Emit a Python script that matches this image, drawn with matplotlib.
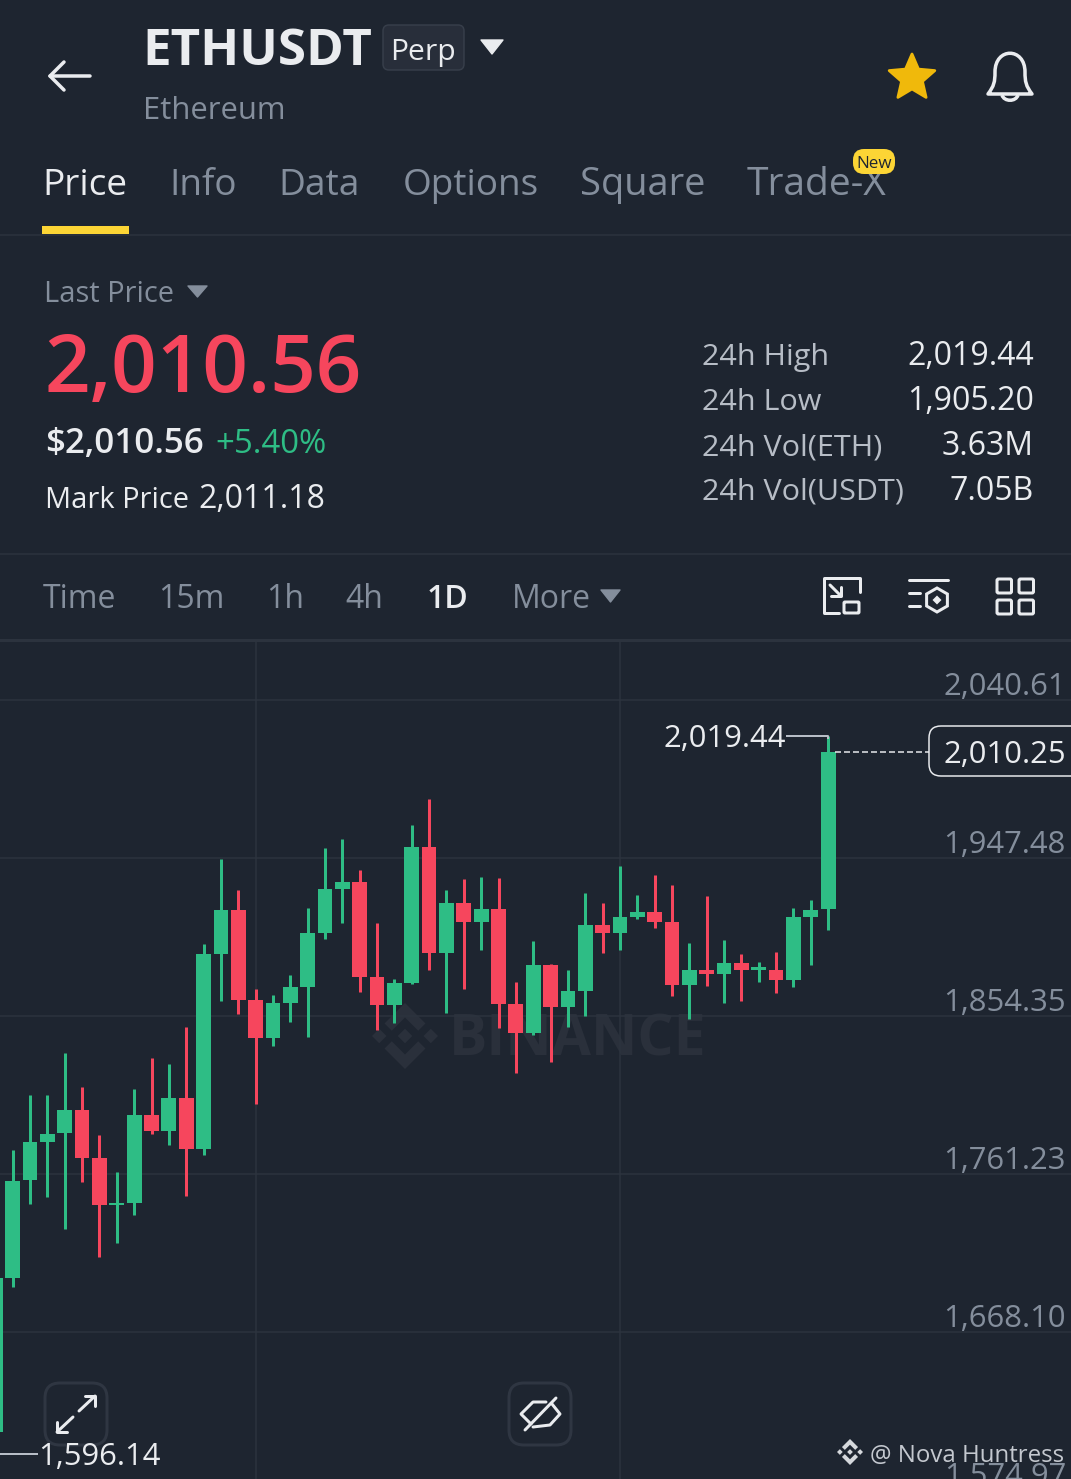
import numpy as np
import matplotlib
matplotlib.use('Agg')
import matplotlib.pyplot as plt
from matplotlib.patches import Polygon, FancyBboxPatch, PathPatch, Rectangle, RegularPolygon
from matplotlib.path import Path

# Daily candles (prices)
highs = [1704.6, 1775.4, 1807.8, 1807.6, 1832.7, 1812.7, 1784.0, 1762.4, 1811.1, 1829.4, 1826.0, 1847.7, 1896.8,
         1946.7, 1928.4, 1870.1, 1866.9, 1878.7, 1917.8, 1953.5, 1958.5, 1940.6, 1909.0, 1876.1, 1966.7, 1982.0,
         1928.8, 1934.9, 1936.4, 1935.9, 1874.2, 1898.4, 1885.0, 1881.5, 1927.0, 1920.8, 1942.9, 1925.7, 1937.4,
         1931.4, 1897.2, 1924.9, 1899.3, 1890.7, 1886.0, 1891.9, 1917.8, 1922.5, 2019.44]
lows = [1596.14, 1694.6, 1743.4, 1747.5, 1728.6, 1756.7, 1712.5, 1720.7, 1736.9, 1785.0, 1778.5, 1748.2, 1772.6,
        1863.4, 1855.5, 1802.6, 1836.5, 1851.0, 1842.0, 1899.6, 1909.3, 1868.3, 1846.3, 1850.4, 1873.0, 1881.3,
        1855.9, 1870.4, 1893.1, 1847.4, 1820.9, 1843.1, 1827.2, 1847.7, 1854.5, 1891.7, 1893.4, 1911.3, 1906.4,
        1866.3, 1852.4, 1872.2, 1862.2, 1863.2, 1874.6, 1868.1, 1871.6, 1884.2, 1905.2]
opens = [1609.1, 1700.1, 1757.7, 1780.1, 1785.2, 1798.8, 1770.6, 1742.8, 1744.3, 1795.8, 1786.7, 1805.8, 1776.1,
         1891.1, 1916.8, 1863.8, 1841.2, 1861.8, 1871.4, 1903.4, 1929.2, 1933.3, 1877.3, 1860.6, 1874.0, 1953.8,
         1891.7, 1920.9, 1909.7, 1917.2, 1861.6, 1844.3, 1884.2, 1859.8, 1869.1, 1907.8, 1903.3, 1912.9, 1915.8,
         1909.6, 1872.4, 1881.6, 1878.9, 1885.4, 1881.5, 1881.6, 1875.4, 1912.9, 1917.2]
closes = [1699.9, 1757.3, 1779.9, 1785.0, 1798.8, 1770.8, 1742.8, 1744.3, 1795.8, 1786.7, 1805.8, 1776.1, 1891.1,
          1916.8, 1863.8, 1841.2, 1861.8, 1871.4, 1903.4, 1929.2, 1933.3, 1877.5, 1860.6, 1873.8, 1953.8, 1891.7,
          1920.9, 1909.7, 1917.2, 1861.6, 1844.3, 1884.2, 1859.8, 1868.9, 1907.8, 1903.3, 1912.9, 1915.8, 1909.7,
          1872.4, 1881.6, 1878.9, 1885.4, 1881.5, 1883.0, 1875.4, 1912.5, 1917.0, 2010.25]
grid_prices = [2040.61, 1947.48, 1854.35, 1761.23, 1668.10, 1574.97]
grid_days = [15, 36]

tabs = ['Price', 'Info', 'Data', 'Options', 'Square', 'Trade-X']
tab_x = [42, 169, 278, 403, 580, 747]
tab_size = [37, 37, 37, 37, 38, 39]
intervals = ['Time', '15m', '1h', '4h', '1D', 'More']
interval_x = [43, 158, 266, 345, 427, 512]
stat_names = ['24h High', '24h Low', '24h Vol(ETH)', '24h Vol(USDT)']
stat_values = ['2,019.44', '1,905.20', '3.63M', '7.05B']

BG = '#1e2530'
LINE = '#2c333e'
WHITE = '#eaecef'
GREY = '#848e9c'
GREEN = '#2ebd85'
RED = '#f6465d'
YELLOW = '#fcd535'
MARK = '#2a303b'
W, H = 1071, 1479
PX = 0.72  # points per pixel at dpi 100

plt.rcParams['font.family'] = ['Open Sans', 'DejaVu Sans']

fig = plt.figure(figsize=(W / 100, H / 100), dpi=100, facecolor=BG)
ui = fig.add_axes([0, 0, 1, 1])
ui.set_xlim(0, W)
ui.set_ylim(H, 0)
ui.axis('off')


def txt(x, y, s, size, color=WHITE, weight='normal', ha='left', **kw):
    return ui.text(x, y, s, fontsize=size * PX, color=color, fontweight=weight, ha=ha, va='baseline', **kw)


def stroke(pts, color=WHITE, lw=3.0, **kw):
    xs, ys = zip(*pts)
    ui.plot(xs, ys, color=color, lw=lw * PX, solid_capstyle='round', solid_joinstyle='round', **kw)


def tri(x0, x1, y0, y1, color):
    ui.add_patch(Polygon([(x0, y0), (x1, y0), ((x0 + x1) / 2, y1)], closed=True, fc=color, ec=color, lw=1, joinstyle='round'))


def round_box(x0, y0, x1, y1, r, fc, ec, lw=1.0, zorder=2):
    ui.add_patch(FancyBboxPatch((x0, y0), x1 - x0, y1 - y0, boxstyle=f'round,pad=0,rounding_size={r}',
                                fc=fc, ec=ec, lw=lw * PX, zorder=zorder))


def logo(cx, cy, r, color):
    small = 0.22
    for dx in (-0.78, 0, 0.78):
        ui.add_patch(Polygon([(cx + (dx - small) * r, cy), (cx + dx * r, cy - small * r),
                              (cx + (dx + small) * r, cy), (cx + dx * r, cy + small * r)], fc=color, ec='none'))
    for sign in (-1, 1):
        chev = [(0, 1), (0.62, 0.38), (0.40, 0.16), (0, 0.56), (-0.40, 0.16), (-0.62, 0.38)]
        ui.add_patch(Polygon([(cx + a * r, cy + sign * b * r) for a, b in chev], fc=color, ec='none'))


# header
stroke([(90, 76), (50, 76)], lw=3.5)
stroke([(64, 62), (50, 76), (64, 90)], lw=3.5)
txt(142, 65, 'ETHUSDT', 51, weight='bold')
round_box(383, 25, 464, 70, 6, '#282e3a', '#373e4a', 1.5)
txt(390, 60, 'Perp', 30, zorder=3)
tri(481, 503, 40, 54, WHITE)
txt(143, 119, 'Ethereum', 31, GREY)

star = [(912 + (24 if i % 2 == 0 else 11) * np.sin(i * np.pi / 5), 78 - (24 if i % 2 == 0 else 11) * np.cos(i * np.pi / 5))
        for i in range(10)]
ui.add_patch(Polygon(star, closed=True, fc='#f0b90b', ec='#f0b90b', lw=2, joinstyle='round'))

bell = Path([(988, 94), (994, 86), (995, 82), (995, 72), (995, 47), (1025, 47), (1025, 72), (1025, 82), (1026, 86),
             (1032, 94), (988, 94)],
            [Path.MOVETO, Path.CURVE4, Path.CURVE4, Path.CURVE4, Path.CURVE4, Path.CURVE4, Path.CURVE4, Path.CURVE4,
             Path.CURVE4, Path.CURVE4, Path.CLOSEPOLY])
ui.add_patch(PathPatch(bell, fc='none', ec=WHITE, lw=3.5 * PX, joinstyle='round'))
ui.add_patch(PathPatch(Path([(1002, 95), (1004, 102), (1016, 102), (1018, 95)],
                            [Path.MOVETO, Path.CURVE4, Path.CURVE4, Path.CURVE4]), fc='none', ec=WHITE, lw=3.5 * PX))

# tabs
for i, (name, x) in enumerate(zip(tabs, tab_x)):
    txt(x, 195, name, tab_size[i], WHITE if i == 0 else GREY, weight='medium' if i == 0 else 'normal')
ui.add_patch(Rectangle((42, 226), 87, 8, fc=YELLOW, ec='none'))
ui.plot([0, W], [234.5, 234.5], color=LINE, lw=1.5 * PX)
round_box(853, 149, 895, 174, 11, YELLOW, 'none', 0, zorder=4)
txt(874, 168, 'New', 17, '#1e2530', weight='medium', ha='center', zorder=5)

# price block
txt(44, 302, 'Last Price', 29, GREY)
tri(188, 207, 286, 297, GREY)
txt(44, 392, '2,010.56', 80, RED, weight='semibold')
txt(45, 453, '$2,010.56', 35, WHITE, weight='semibold')
txt(215, 453, '+5.40%', 33, GREEN)
txt(45, 508, 'Mark Price', 29)
txt(198, 508, '2,011.18', 32)
for i in range(4):
    base = 365 + 45 * i
    txt(702, base, stat_names[i], 30.5, '#b7bdc6')
    txt(1034, base, stat_values[i], 32, WHITE, weight='medium', ha='right')
ui.plot([0, W], [553.5, 553.5], color=LINE, lw=1.5 * PX)

# interval row
for name, x in zip(intervals, interval_x):
    active = name == '1D'
    txt(x, 608, name, 32, WHITE if active else GREY, weight='semibold' if active else 'normal')
tri(601, 620, 590, 602, GREY)
ui.plot([0, W], [640, 640], color=LINE, lw=3 * PX)

stroke([(860, 592), (860, 578), (824, 578), (824, 613), (839, 613)], lw=3)
round_box(844, 602, 859, 613, 1, 'none', WHITE, 3)
stroke([(830, 585), (841, 596)], lw=3)
stroke([(831, 596), (841, 596), (841, 587)], lw=3)

stroke([(909, 580), (948, 580)], lw=3)
stroke([(909, 593), (920, 593)], lw=3)
stroke([(909, 606), (920, 606)], lw=3)
ui.add_patch(RegularPolygon((937, 600), 6, radius=12, fc='none', ec=WHITE, lw=3 * PX))
ui.add_patch(RegularPolygon((937, 600), 4, radius=4.5, fc=WHITE, ec='none'))

for x0 in (997, 1019):
    for y0 in (579, 600):
        round_box(x0, y0, x0 + 14.5, y0 + 14, 1.5, 'none', WHITE, 3)

# watermark under the candles
logo(405, 1036, 33, MARK)
txt(449, 1055, 'BINANCE', 57, MARK, weight='bold')

# chart buttons
round_box(45, 1383, 107, 1445, 15, 'none', '#2f3642', 3)
round_box(509, 1383, 571, 1445, 15, 'none', '#2f3642', 3)
stroke([(79, 1411), (95, 1396)], lw=3)
stroke([(85, 1396), (95, 1396), (95, 1406)], lw=3)
stroke([(73, 1417), (57, 1432)], lw=3)
stroke([(57, 1422), (57, 1432), (67, 1432)], lw=3)
stroke([(546, 1402), (533, 1402), (521, 1414), (531, 1424)], lw=3)
stroke([(552, 1404), (560, 1414), (550, 1425), (533, 1427)], lw=3)
stroke([(556, 1398), (525, 1430)], lw=3)

# candlesticks, same px scale as the screenshot: 17.35 px per day, 158 px per 93.13
chart = fig.add_axes([0, 0, 1, (H - 641) / H])
chart.patch.set_alpha(0)
chart.set_xlim(-0.732, 60.997)
chart.set_ylim(2040.61 - 779 * 93.13 / 158, 2040.61 + 59 * 93.13 / 158)
chart.axis('off')

opens = np.array(opens)
closes = np.array(closes)
days = np.arange(len(opens)) - 1
colors = [GREEN if c >= o else RED for o, c in zip(opens, closes)]

for p in grid_prices:
    chart.axhline(p, color=LINE, lw=1.5 * PX, zorder=1)
    chart.annotate(f'{p:,.2f}', xy=(1, p), xycoords=chart.get_yaxis_transform(), xytext=(-5 * PX, 5 * PX),
                   textcoords='offset points', ha='right', va='baseline', color=GREY, fontsize=31 * PX,
                   annotation_clip=False, zorder=2)
for d in grid_days:
    chart.axvline(d - 1, color=LINE, lw=1.5 * PX, zorder=1)

chart.vlines(days, lows, highs, colors=colors, lw=3 * PX, zorder=3)
chart.bar(days, closes - opens, bottom=opens, width=0.85, color=colors, zorder=4, linewidth=0)

# high, low and last price marks
top = max(highs)
bottom = min(lows)
chart.plot([44.6, 47, 47], [top, top, top - 1], color='#b7bdc6', lw=2 * PX, zorder=5)
chart.annotate(f'{top:,.2f}', xy=(44.55, top), xytext=(0, -11 * PX), textcoords='offset points', ha='right',
               va='baseline', color=WHITE, fontsize=31 * PX, zorder=6)
chart.plot([-1, 1.4], [bottom, bottom], color='#b7bdc6', lw=2 * PX, zorder=5)
chart.annotate(f'{bottom:,.2f}', xy=(1.45, bottom), xytext=(0, -11 * PX), textcoords='offset points', ha='left',
               va='baseline', color=WHITE, fontsize=31 * PX, zorder=6)
chart.plot([47.4, 52.8], [closes[-1], closes[-1]], color=WHITE, lw=1.5 * PX, ls=(0, (4, 2)), zorder=5)

# last price box and signature sit above the candles
over = fig.add_axes([0, 0, 1, 1])
over.patch.set_alpha(0)
over.set_xlim(0, W)
over.set_ylim(H, 0)
over.axis('off')
over.add_patch(FancyBboxPatch((929, 726), 161, 50, boxstyle='round,pad=0,rounding_size=12', fc=BG, ec=WHITE, lw=1.5 * PX))
over.text(1066, 763, f'{closes[-1]:,.2f}', fontsize=31 * PX, color=WHITE, ha='right', va='baseline')
ui = over
logo(850, 1452, 13, '#d5d8dc')
over.text(870, 1462, '@ Nova Huntress', fontsize=24 * PX, color='#c4c8cf', ha='left', va='baseline')

fig.savefig('out.png', dpi=100, facecolor=BG)
